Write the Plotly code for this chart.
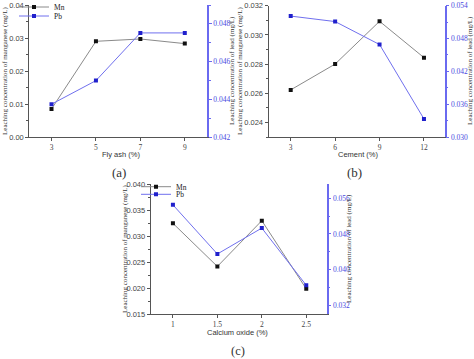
import plotly.graph_objects as go

# ---- data ----
fly_ash = [3, 5, 7, 9]
mn_a = [0.0085, 0.0290, 0.0297, 0.0283]
pb_a = [0.04374, 0.04499, 0.04752, 0.04752]

cement = [3, 6, 9, 12]
mn_b = [0.02623, 0.0280, 0.03093, 0.02844]
pb_b = [0.0521, 0.0511, 0.0469, 0.0333]

cao = [1, 1.5, 2, 2.5]
mn_c = [0.0325, 0.0242, 0.0330, 0.0199]
pb_c = [0.0545, 0.0435, 0.0493, 0.0365]

W, H = 474, 359
GRAY_LINE = "#8a8a8a"
BLACK = "#111111"
BLUE_LINE = "#7070ee"
BLUE_MK = "#2020cc"
AX = "#555555"
BLUE_AX = "#6a6af0"
SANS = "Liberation Sans, Arial, sans-serif"
SERIF = "Liberation Serif, Times New Roman, serif"

fig = go.Figure()

def add_pair(x, mn, pb, xa, yl, yr, leg_mn, leg_pb, show):
    fig.add_trace(go.Scatter(x=x, y=mn, mode="lines+markers", name="Mn",
                             line=dict(color=GRAY_LINE, width=1),
                             marker=dict(symbol="square", size=4, color=BLACK),
                             xaxis=xa, yaxis=yl, showlegend=show, legend=leg_mn))
    fig.add_trace(go.Scatter(x=x, y=pb, mode="lines+markers", name="Pb",
                             line=dict(color=BLUE_LINE, width=1),
                             marker=dict(symbol="square", size=4, color=BLUE_MK),
                             xaxis=xa, yaxis=yr, showlegend=show, legend=leg_pb))

add_pair(fly_ash, mn_a, pb_a, "x", "y", "y2", "legend", "legend2", True)
add_pair(cement, mn_b, pb_b, "x2", "y3", "y4", "legend", "legend2", False)
add_pair(cao, mn_c, pb_c, "x3", "y5", "y6", "legend3", "legend4", True)

def px_dom_x(a, b):
    return [a / W, b / W]

def px_dom_y(top, bot):
    return [(H - bot) / H, (H - top) / H]

tickfont_l = dict(family=SANS, size=7.5, color="#444444")
tickfont_r = dict(family=SERIF, size=7.5, color="#4a4ae0")

def xaxis(dom, rng, tickvals, ticktext, anchor):
    return dict(domain=dom, range=rng, tickvals=tickvals, ticktext=ticktext,
                showgrid=False, zeroline=False, showline=True, linecolor=AX, linewidth=1,
                ticks="outside", ticklen=3, tickcolor=AX,
                tickfont=dict(family=SERIF, size=7.5, color="#444444"),
                anchor=anchor, fixedrange=True, automargin=False)

def yleft(dom, rng, dtick, fmt, anchor, minor_dtick):
    return dict(domain=dom, range=rng, dtick=dtick, tick0=0, tickformat=fmt,
                showgrid=False, zeroline=False, showline=True, linecolor=AX, linewidth=1,
                ticks="outside", ticklen=3, tickcolor=AX, tickfont=tickfont_l,
                minor=dict(ticks="outside", ticklen=2, dtick=minor_dtick, tickcolor=AX),
                anchor=anchor, fixedrange=True, automargin=False)

def yright(over, rng, dtick, fmt, anchor, minor_dtick):
    return dict(overlaying=over, side="right", range=rng, dtick=dtick, tick0=0, tickformat=fmt,
                showgrid=False, zeroline=False, showline=True, linecolor=BLUE_AX, linewidth=1.5,
                ticks="outside", ticklen=3, tickcolor=BLUE_AX, tickfont=tickfont_r,
                minor=dict(ticks="outside", ticklen=2, dtick=minor_dtick, tickcolor=BLUE_AX),
                anchor=anchor, fixedrange=True, automargin=False)

ya = px_dom_y(5, 137)
yb = px_dom_y(5.7, 137)
yc = px_dom_y(184.3, 314.3)

def leg(xpx, ypx):
    return dict(x=xpx / W, y=1 - ypx / H, xanchor="left", yanchor="middle",
                bgcolor="rgba(0,0,0,0)", font=dict(family=SERIF, size=7.5, color="#222222"),
                itemwidth=30, borderwidth=0, tracegroupgap=0)

fig.update_layout(
    width=W, height=H,
    margin=dict(l=0, r=0, t=0, b=0, autoexpand=False),
    paper_bgcolor="white", plot_bgcolor="white",
    xaxis=xaxis(px_dom_x(29.3, 207), [2.0, 10.0], fly_ash, [str(v) for v in fly_ash], "y"),
    yaxis=yleft(ya, [0, 0.04], 0.01, ".2f", "x", 0.005),
    yaxis2=yright("y", [0.042, 0.049], 0.002, ".3f", "x", 0.001),
    xaxis2=xaxis(px_dom_x(268.5, 444.7), [1.5, 13.4], cement, [str(v) for v in cement], "y3"),
    yaxis3=yleft(yb, [0.023, 0.032], 0.002, ".3f", "x2", 0.001),
    yaxis4=yright("y3", [0.030, 0.054], 0.006, ".3f", "x2", 0.003),
    xaxis3=xaxis(px_dom_x(150.7, 326.7), [0.75, 2.73], cao, ["1", "1.5", "2", "2.5"], "y5"),
    yaxis5=yleft(yc, [0.015, 0.040], 0.005, ".3f", "x3", 0.0025),
    yaxis6=yright("y5", [0.030, 0.0591], 0.008, ".3f", "x3", 0.004),
    legend=leg(14, 7),
    legend2=leg(14, 16),
    legend3=leg(136, 186.7),
    legend4=leg(136, 194.3),
    showlegend=True,
)

annotations = []
def ann(x, y, text, size, family=SERIF, angle=0, color="#333333"):
    annotations.append(dict(x=x / W, y=1 - y / H, xref="paper", yref="paper", text=text,
                            showarrow=False, textangle=angle,
                            font=dict(family=family, size=size, color=color),
                            xanchor="center", yanchor="middle"))

left_t = "Leaching concentration of manganese (mg/L)"
right_t = "Leaching concentration of lead (mg/L)"
# panel a
ann(5, 71, left_t, 7, angle=-90)
ann(232, 71, right_t, 7, angle=-90)
ann(121, 155, "Fly ash (%)", 7.5, family=SANS)
ann(119, 172, "(a)", 13)
# panel b
ann(240, 71, left_t, 7, angle=-90)
ann(470, 71, right_t, 7, angle=-90)
ann(358, 155, "Cement (%)", 7.5, family=SANS)
ann(354, 172, "(b)", 13)
# panel c
ann(125, 249, left_t, 7, angle=-90)
ann(349, 249, right_t, 7, angle=-90)
ann(237, 332, "Calcium oxide (%)", 7.5, family=SANS)
ann(238, 350.5, "(c)", 12.5)

fig.update_layout(annotations=annotations)

fig.write_html("out.html", config={"displayModeBar": False},
               post_script="document.body.style.margin='0px';")
